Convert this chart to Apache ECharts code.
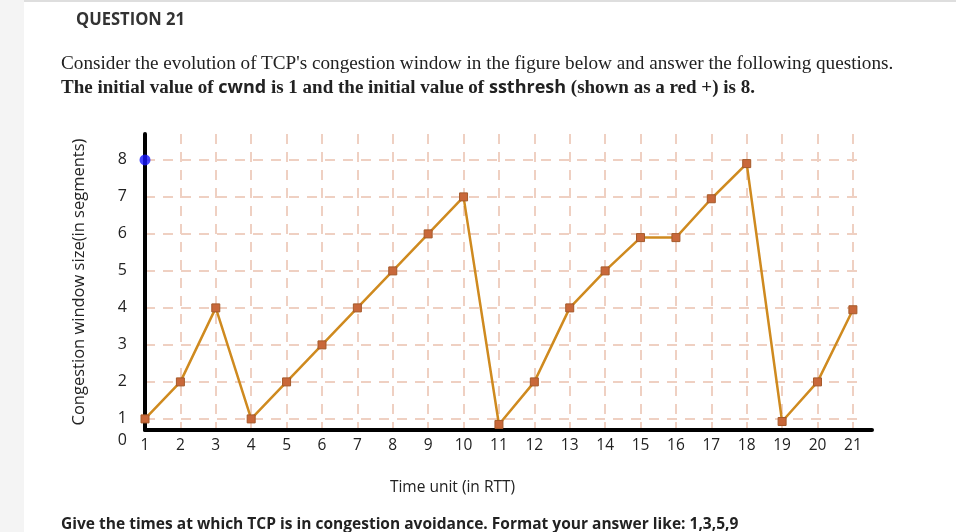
<!DOCTYPE html>
<html>
<head>
<meta charset="utf-8">
<script src="https://cdn.jsdelivr.net/npm/echarts@6/dist/echarts.min.js"></script>
<style>
  html, body { margin:0; padding:0; background:#fff; width:956px; height:532px; overflow:hidden; }
  #strip { position:absolute; left:0; top:0; width:24px; height:532px; background:#f4f4f4; }
  #topline { position:absolute; left:24px; top:0; width:932px; height:2px; background:#dedede; }
  #chart { position:absolute; left:0; top:0; width:956px; height:532px; }
  .t { position:absolute; white-space:nowrap; color:#222; z-index:5; pointer-events:none; transform-origin:0 50%; }
  #q { left:76px; top:6px; font:700 18px "Open Sans", sans-serif; color:#333; transform:scaleX(0.92); }
  #l1 { left:61px; top:52px; font:19.2px "Liberation Serif", serif; }
  #l2 { left:61px; top:74px; font:700 19px "Liberation Serif", serif; }
  #l2 .s { font:700 18px "Open Sans", sans-serif; }
  #bot { left:61px; top:512px; font:700 16px "Open Sans", sans-serif; color:#222; transform:scaleX(0.97); }
</style>
</head>
<body>
<div id="strip"></div>
<div id="topline"></div>
<div id="chart"></div>
<div class="t" id="q">QUESTION 21</div>
<div class="t" id="l1">Consider the evolution of TCP's congestion window in the figure below and answer the following questions.</div>
<div class="t" id="l2">The initial value of <span class="s">cwnd</span> is 1 and the initial value of <span class="s">ssthresh</span> (shown as a red +) is 8.</div>
<div class="t" id="bot">Give the times at which TCP is in congestion avoidance. Format your answer like: 1,3,5,9</div>
<script>
// ---- data ----
var timeUnits = [1,2,3,4,5,6,7,8,9,10,11,12,13,14,15,16,17,18,19,20,21];
var cwndValues = [1,2,4,1,2,3,4,5,6,7,0.85,2,4,5,5.9,5.9,6.95,7.9,0.93,2,3.95];
var ssthreshPoint = [1, 8];
var xTickLabels = [1,2,3,4,5,6,7,8,9,10,11,12,13,14,15,16,17,18,19,20,21];
var xGridValues = [2,3,4,5,6,7,8,9,10,11,12,13,14,15,16,17,18,19,20,21];
var yTickLabels = [1,2,3,4,5,6,7,8];
var yOriginLabel = '0';

var X_MIN = 1, X_MAX = 21.54, X_MAX_GRID = 21.12;
var Y_MIN = 0.7, Y_MAX = 8.7;

var cwndData = timeUnits.map(function(t, i){ return [t, cwndValues[i]]; });

var gridColor = '#efd0c2';

var chart = echarts.init(document.getElementById('chart'), null, { renderer: 'canvas' });
chart.setOption({
  animation: false,
  grid: [
    { left: 145, top: 134, right: 84, bottom: 102 },
    { left: 145, top: 134, right: 99, bottom: 102 }
  ],
  xAxis: [
    {
      type: 'value', gridIndex: 0, min: X_MIN, max: X_MAX,
      name: 'Time unit (in RTT)', nameLocation: 'middle', nameGap: 50,
      nameTextStyle: { fontFamily: 'Open Sans', fontSize: 15.5, color: '#222', padding: [0, 112, 0, 0] },
      axisLine: { onZero: false, lineStyle: { color: '#000', width: 4 } },
      axisTick: { show: false, customValues: xGridValues },
      axisLabel: { customValues: xTickLabels, margin: 8, fontFamily: 'Open Sans', fontSize: 15.5, color: '#222' },
      splitLine: { show: true, lineStyle: { color: gridColor, width: 2, type: [10, 8] } }
    },
    {
      type: 'value', gridIndex: 1, min: X_MIN, max: X_MAX_GRID, show: false,
      splitLine: { show: false }
    }
  ],
  yAxis: [
    {
      type: 'value', gridIndex: 0, min: Y_MIN, max: Y_MAX,
      name: 'Congestion window size(in segments)', nameLocation: 'middle', nameGap: 57,
      nameTextStyle: { fontFamily: 'Open Sans', fontSize: 16.5, color: '#222' },
      axisLine: { onZero: false, lineStyle: { color: '#000', width: 4 } },
      axisTick: { show: false },
      axisLabel: {
        customValues: [Y_MIN].concat(yTickLabels), margin: 18,
        fontFamily: 'Open Sans', fontSize: 16, color: '#222',
        formatter: function(v){ return v === Y_MIN ? '{z|' + yOriginLabel + '}' : String(Math.round(v)); },
        rich: { z: { fontFamily: 'Open Sans', fontSize: 16, color: '#222', padding: [20, 0, 0, 0] } }
      },
      splitLine: { show: false }
    },
    {
      type: 'value', gridIndex: 1, min: Y_MIN, max: Y_MAX,
      axisLine: { show: false }, axisLabel: { show: false },
      axisTick: { show: false, customValues: yTickLabels },
      splitLine: { show: true, lineStyle: { color: gridColor, width: 2, type: [10, 8] } }
    }
  ],
  series: [
    {
      type: 'line', xAxisIndex: 0, yAxisIndex: 0, data: cwndData, z: 5,
      symbol: 'rect', symbolSize: 8, showAllSymbol: true,
      lineStyle: { color: '#cf8a1f', width: 2.5 },
      itemStyle: { color: '#c9683a', borderColor: '#a55a2a', borderWidth: 1 }
    },
    {
      type: 'scatter', xAxisIndex: 0, yAxisIndex: 0, data: [ssthreshPoint], z: 6,
      symbol: 'circle', symbolSize: 11,
      itemStyle: { color: '#1717ff' }
    }
  ]
});
</script>
</body>
</html>
